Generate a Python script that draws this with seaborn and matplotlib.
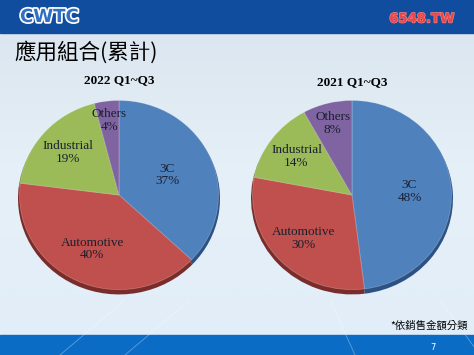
import numpy as np
import matplotlib
matplotlib.use("Agg")
import matplotlib.pyplot as plt
import matplotlib.patheffects as pe
from matplotlib.patches import Rectangle
from matplotlib.colors import LinearSegmentedColormap
import seaborn as sns

# ---- data ----
categories = ["3C", "Automotive", "Industrial", "Others"]
share_2022 = [37, 40, 19, 4]
share_2021 = [48, 30, 14, 8]
titles = ["2022 Q1~Q3", "2021 Q1~Q3"]
slide_title = "應用組合(累計)"
footnote = "*依銷售金額分類"
ticker = "6548.TW"
logo = "CWTC"
page = "7"

sns.set_theme(style="white")
plt.rcParams["font.family"] = ["Liberation Serif", "DejaVu Serif"]

colors = ["#4f81bd", "#c0504d", "#9bbb59", "#8064a2"]
rim = ["#2c5183", "#7a2c2a", "#66803a", "#4f3c6a"]

W, H = 474, 355
fig = plt.figure(figsize=(W / 100, H / 100), dpi=100)

# background
bg = fig.add_axes([0, 0, 1, 1])
bg.set_axis_off()
grad = np.linspace(0, 1, 256).reshape(-1, 1)
cmap = LinearSegmentedColormap.from_list("bg", ["#d9e4ee", "#e6f0f8", "#e1edf8"])
bg.imshow(grad, aspect="auto", cmap=cmap, extent=[0, W, H, 0])
bg.set_xlim(0, W)
bg.set_ylim(H, 0)
bg.add_patch(Rectangle((0, 0), W, 33, color="#104d9e", zorder=2))
bg.add_patch(Rectangle((0, 335), W, 20, color="#0b6cc5", zorder=2))
for x0, x1 in [(125, 60), (190, 125), (330, 355), (440, 480)]:
    bg.plot([x0, x1], [300, 355], color="white", lw=0.6, alpha=0.35, zorder=3)

bg.text(20, 17, logo, color="#2f6fc4", fontsize=13, fontweight="bold",
        family=["DejaVu Sans"], va="center", ha="left", zorder=4,
        path_effects=[pe.withStroke(linewidth=2.5, foreground="white")])
bg.text(455, 19, ticker, color="#e8464a", fontsize=9.5, fontweight="bold",
        family=["DejaVu Sans"], va="center", ha="right", zorder=4,
        path_effects=[pe.withStroke(linewidth=1, foreground="#f08080")])
bg.text(14, 52, slide_title, color="black", fontsize=15.5,
        family=["Noto Sans CJK TC", "DejaVu Sans"], va="center", ha="left", zorder=4)
bg.text(468, 326, footnote, color="black", fontsize=7.5,
        family=["Noto Sans CJK TC", "DejaVu Sans"], va="center", ha="right", zorder=4)
bg.text(433, 347, page, color="white", fontsize=6, family=["DejaVu Sans"],
        va="center", ha="center", zorder=4)

pies = [
    dict(values=share_2022, cx=119, cy=196, rx=101, ry=97, title=titles[0], ty=80,
         lr=[0.52, 0.62, 0.67, 0.78]),
    dict(values=share_2021, cx=352, cy=196, rx=101, ry=97, title=titles[1], ty=82,
         lr=[0.57, 0.66, 0.68, 0.77]),
]

for p in pies:
    ax = fig.add_axes([(p["cx"] - p["rx"]) / W, (H - p["cy"] - p["ry"]) / H,
                       2 * p["rx"] / W, 2 * p["ry"] / H])
    ax.pie(p["values"], colors=rim, startangle=90, counterclock=False,
           center=(0, -0.035), radius=1.0,
           wedgeprops=dict(linewidth=0))
    wedges, _ = ax.pie(p["values"], colors=colors, startangle=90, counterclock=False,
                       radius=0.985, wedgeprops=dict(linewidth=0.6, edgecolor="#ffffff40"))
    for w, cat, v, r in zip(wedges, categories, p["values"], p["lr"]):
        ang = np.deg2rad((w.theta1 + w.theta2) / 2)
        ax.text(r * np.cos(ang), r * np.sin(ang), f"{cat}\n{v}%", ha="center",
                va="center", fontsize=9.5, color="#1a1f2e", linespacing=1.05)
    ax.set_aspect("auto")
    ax.set_xlim(-1, 1)
    ax.set_ylim(-1.02, 1)
    ax.set_axis_off()
    bg.text(p["cx"], p["ty"], p["title"], ha="center", va="center", fontsize=9.5,
            fontweight="bold", color="black", zorder=4)

fig.savefig("out.png", dpi=100)
